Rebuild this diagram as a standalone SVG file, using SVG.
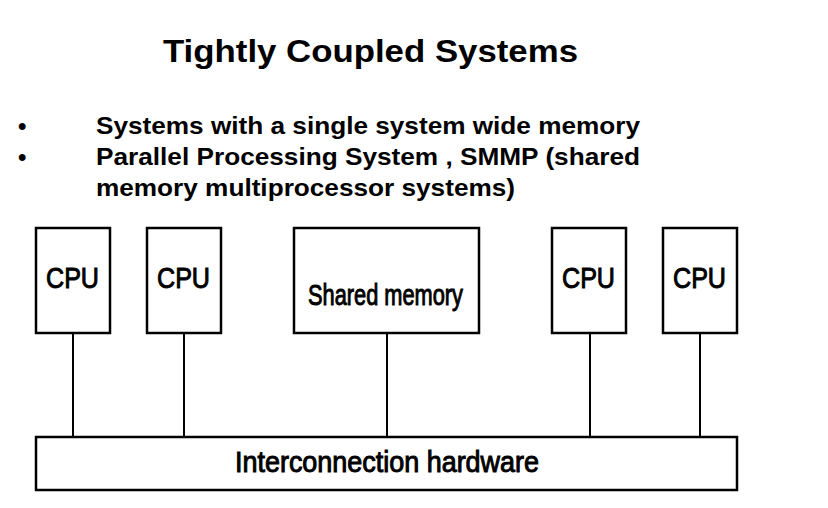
<svg xmlns="http://www.w3.org/2000/svg" width="828" height="508" viewBox="0 0 828 508">
<style>
text{font-family:"Liberation Sans",Arial,sans-serif;fill:#000}
.t{font-weight:bold;font-size:32px}
.b{font-weight:bold;font-size:24px}
.n{font-size:30px;stroke:#000;stroke-width:1}
.box{fill:#fff;stroke:#000;stroke-width:2.5}
.c{stroke:#000;stroke-width:2;fill:none}
</style>
<rect width="828" height="508" fill="#fff"/>
<text class="t" x="163" y="62" textLength="415" lengthAdjust="spacingAndGlyphs">Tightly Coupled Systems</text>
<text class="b" x="18" y="134">•</text>
<text class="b" x="18" y="165">•</text>
<text class="b" x="96" y="134" textLength="544" lengthAdjust="spacingAndGlyphs">Systems with a single system wide memory</text>
<text class="b" x="96" y="165" textLength="544" lengthAdjust="spacingAndGlyphs">Parallel Processing System , SMMP (shared</text>
<text class="b" x="96" y="196" textLength="419" lengthAdjust="spacingAndGlyphs">memory multiprocessor systems)</text>
<g id="connectors">
<line class="c" x1="73" y1="333" x2="73" y2="437"/>
<line class="c" x1="184" y1="333" x2="184" y2="437"/>
<line class="c" x1="387" y1="333" x2="387" y2="437"/>
<line class="c" x1="590" y1="333" x2="590" y2="437"/>
<line class="c" x1="700" y1="333" x2="700" y2="437"/>
</g>
<g id="cpu1"><rect class="box" x="36" y="228" width="74" height="105"/><text class="n" x="46" y="288" textLength="53" lengthAdjust="spacingAndGlyphs">CPU</text></g>
<g id="cpu2"><rect class="box" x="147" y="228" width="74" height="105"/><text class="n" x="157" y="288" textLength="53" lengthAdjust="spacingAndGlyphs">CPU</text></g>
<g id="shared"><rect class="box" x="294" y="228" width="185" height="105"/><text class="n" x="308" y="305" font-size="23" stroke-width="0.8" textLength="155" lengthAdjust="spacingAndGlyphs">Shared memory</text></g>
<g id="cpu3"><rect class="box" x="552" y="228" width="74" height="105"/><text class="n" x="562" y="288" textLength="53" lengthAdjust="spacingAndGlyphs">CPU</text></g>
<g id="cpu4"><rect class="box" x="663" y="228" width="74" height="105"/><text class="n" x="673" y="288" textLength="53" lengthAdjust="spacingAndGlyphs">CPU</text></g>
<g id="interconnect"><rect class="box" x="36" y="437" width="701" height="53"/><text class="n" x="235" y="472" textLength="304" lengthAdjust="spacingAndGlyphs">Interconnection hardware</text></g>
</svg>
